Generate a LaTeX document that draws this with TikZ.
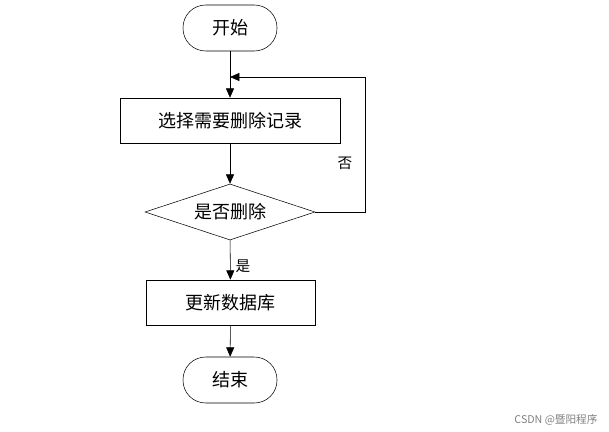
\documentclass[tikz,border=0pt]{standalone}
\usepackage{fontspec}
\newfontfamily\cjk{Noto Sans CJK SC}
\usetikzlibrary{shapes.geometric,arrows.meta}
\begin{document}
\begin{tikzpicture}[x=0.75pt,y=-0.75pt,
  every node/.style={font=\cjk\fontsize{13.5}{15}\selectfont},
  term/.style={draw,rounded corners=17pt,minimum width=70.5pt,minimum height=34.5pt},
  proc/.style={draw,minimum height=33.75pt},
  dec/.style={draw,diamond,aspect=3,inner sep=0pt,minimum width=127.5pt,minimum height=42pt},
  arr/.style={-{Triangle[length=7pt,width=6pt]}},
  lbl/.style={font=\cjk\fontsize{11}{13}\selectfont}]
\useasboundingbox (0,0) rectangle (609,431);
\node[term] (s) at (230,28) {开始};
\node[proc,minimum width=165pt] (p1) at (230,120.5) {选择需要删除记录};
\node[dec] (d) at (230,212) {是否删除};
\node[proc,minimum width=126.75pt] (p2) at (230.5,302.5) {更新数据库};
\node[term] (e) at (230,380) {结束};
\coordinate (m) at (230,77);
\coordinate (r1) at (365,212);
\coordinate (r2) at (365,77);
\draw[arr] (s) -- (p1);
\draw[arr] (p1) -- (d);
\draw[arr] (d) -- (p2);
\draw[arr] (p2) -- (e);
\draw[arr] (d.east) -- (r1) -- (r2) -- (m);
\node[lbl] (yes) at (243,266) {是};
\node[lbl] (no) at (345,163) {否};
\node[font=\cjk\fontsize{8}{10}\selectfont,text=gray] (wm) at (556,420) {CSDN @暨阳程序};
\end{tikzpicture}
\end{document}
